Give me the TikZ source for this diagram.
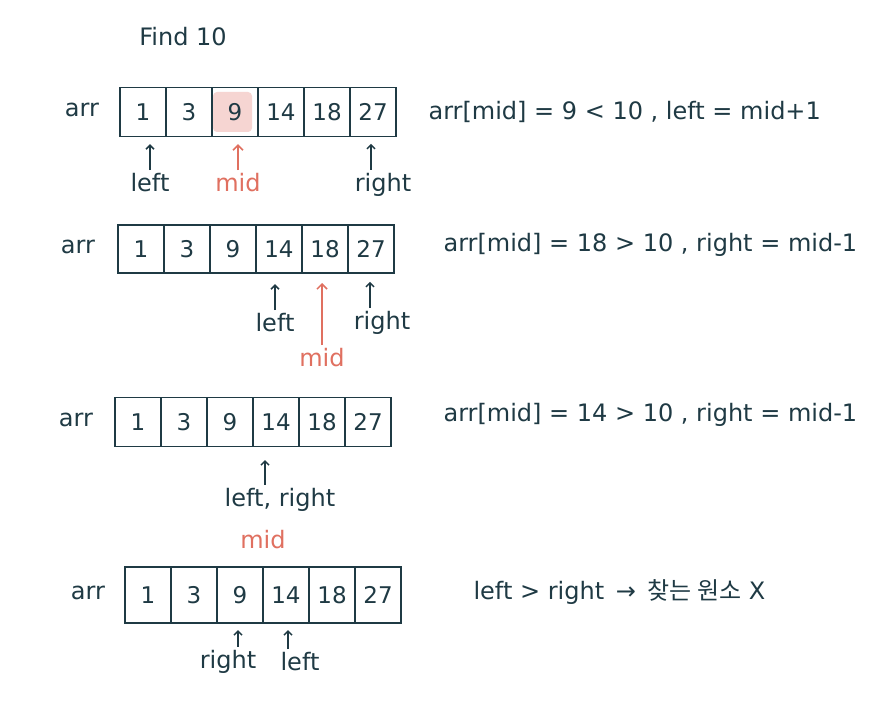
\documentclass[tikz,border=0pt]{standalone}
\usepackage{fontspec}
\usetikzlibrary{arrows.meta}
\setmainfont{DejaVu Sans}
\newfontfamily\cjk{Noto Sans CJK KR}
\begin{document}
\begin{tikzpicture}[x=1pt,y=-1pt,
 txt/.style={text=dk,font=\fontsize{24}{26}\selectfont},
 rtxt/.style={text=rd,font=\fontsize{24}{26}\selectfont},
 cell/.style={draw=dk,line width=1.8pt,minimum width=46pt,inner sep=0pt,text=dk,font=\fontsize{23}{26}\selectfont},
 arr/.style={draw=dk,line width=1.5pt,-{Straight Barb[length=4pt]}},
 rarr/.style={draw=rd,line width=1.5pt,-{Straight Barb[length=5pt]}}]
\definecolor{dk}{HTML}{1F3A44}\definecolor{rd}{HTML}{E07060}\definecolor{pk}{HTML}{F6D5D2}
\useasboundingbox[fill=white] (0,0) rectangle (890,714);
\node[txt] (title) at (183,37) {Find 10};
\foreach \r/\x/\y/\h in {a/120/112/49,b/118/249/48,c/115/422/49,d/125/595/56}{
 \foreach \v [count=\i] in {1,3,9,14,18,27}{
  \node[cell,minimum height=\h pt] (\r\i) at ({\x+23+(\i-1)*46},\y) {\v};
 }
}
\fill[pk,rounded corners=4pt] (213,92) rectangle (252,132);
\node[cell,minimum height=49pt] at (a3) {9};
\node[txt] (la) at (82,110) {arr}; \node[txt] (lb) at (78,247) {arr};
\node[txt] (lc) at (76,420) {arr}; \node[txt] (ld) at (88,593) {arr};
\node[txt] (a-left) at (150,183) {left}; \draw[arr] (a-left.north) -- ++(0,-26);
\node[rtxt] (a-mid) at (238,183) {mid}; \draw[rarr] (a-mid.north) -- ++(0,-26);
\node[txt] (a-right) at (383,185) {right}; \draw[arr] ([xshift=-12pt]a-right.north) -- ++(0,-26);
\node[txt,anchor=west] (a-t) at (425,112) {arr[mid] = 9 < 10 , left = mid+1};
\node[txt] (b-left) at (275,323) {left}; \draw[arr] (b-left.north) -- ++(0,-26);
\node[txt] (b-right) at (382,323) {right}; \draw[arr] ([xshift=-12pt]b-right.north) -- ++(0,-26);
\node[rtxt] (b-mid) at (322,358) {mid}; \draw[rarr] (b-mid.north) -- (322,283);
\node[txt,anchor=west] (b-t) at (440,245) {arr[mid] = 18 > 10 , right = mid-1};
\node[txt] (c-lr) at (280,500) {left, right}; \draw[arr] ([xshift=-15pt]c-lr.north) -- (265,460);
\node[rtxt] (c-mid) at (263,540) {mid};
\node[txt,anchor=west] (c-t) at (440,415) {arr[mid] = 14 > 10 , right = mid-1};
\node[txt] (d-right) at (228,662) {right}; \draw[arr] ([xshift=10pt]d-right.north) -- (238,630);
\node[txt] (d-left) at (300,662) {left}; \draw[arr] ([xshift=-12pt]d-left.north) -- (288,630);
\node[txt,anchor=west] (d-t) at (470,592) {left > right \,→\, {\cjk 찾는 원소} X};
\end{tikzpicture}
\end{document}
